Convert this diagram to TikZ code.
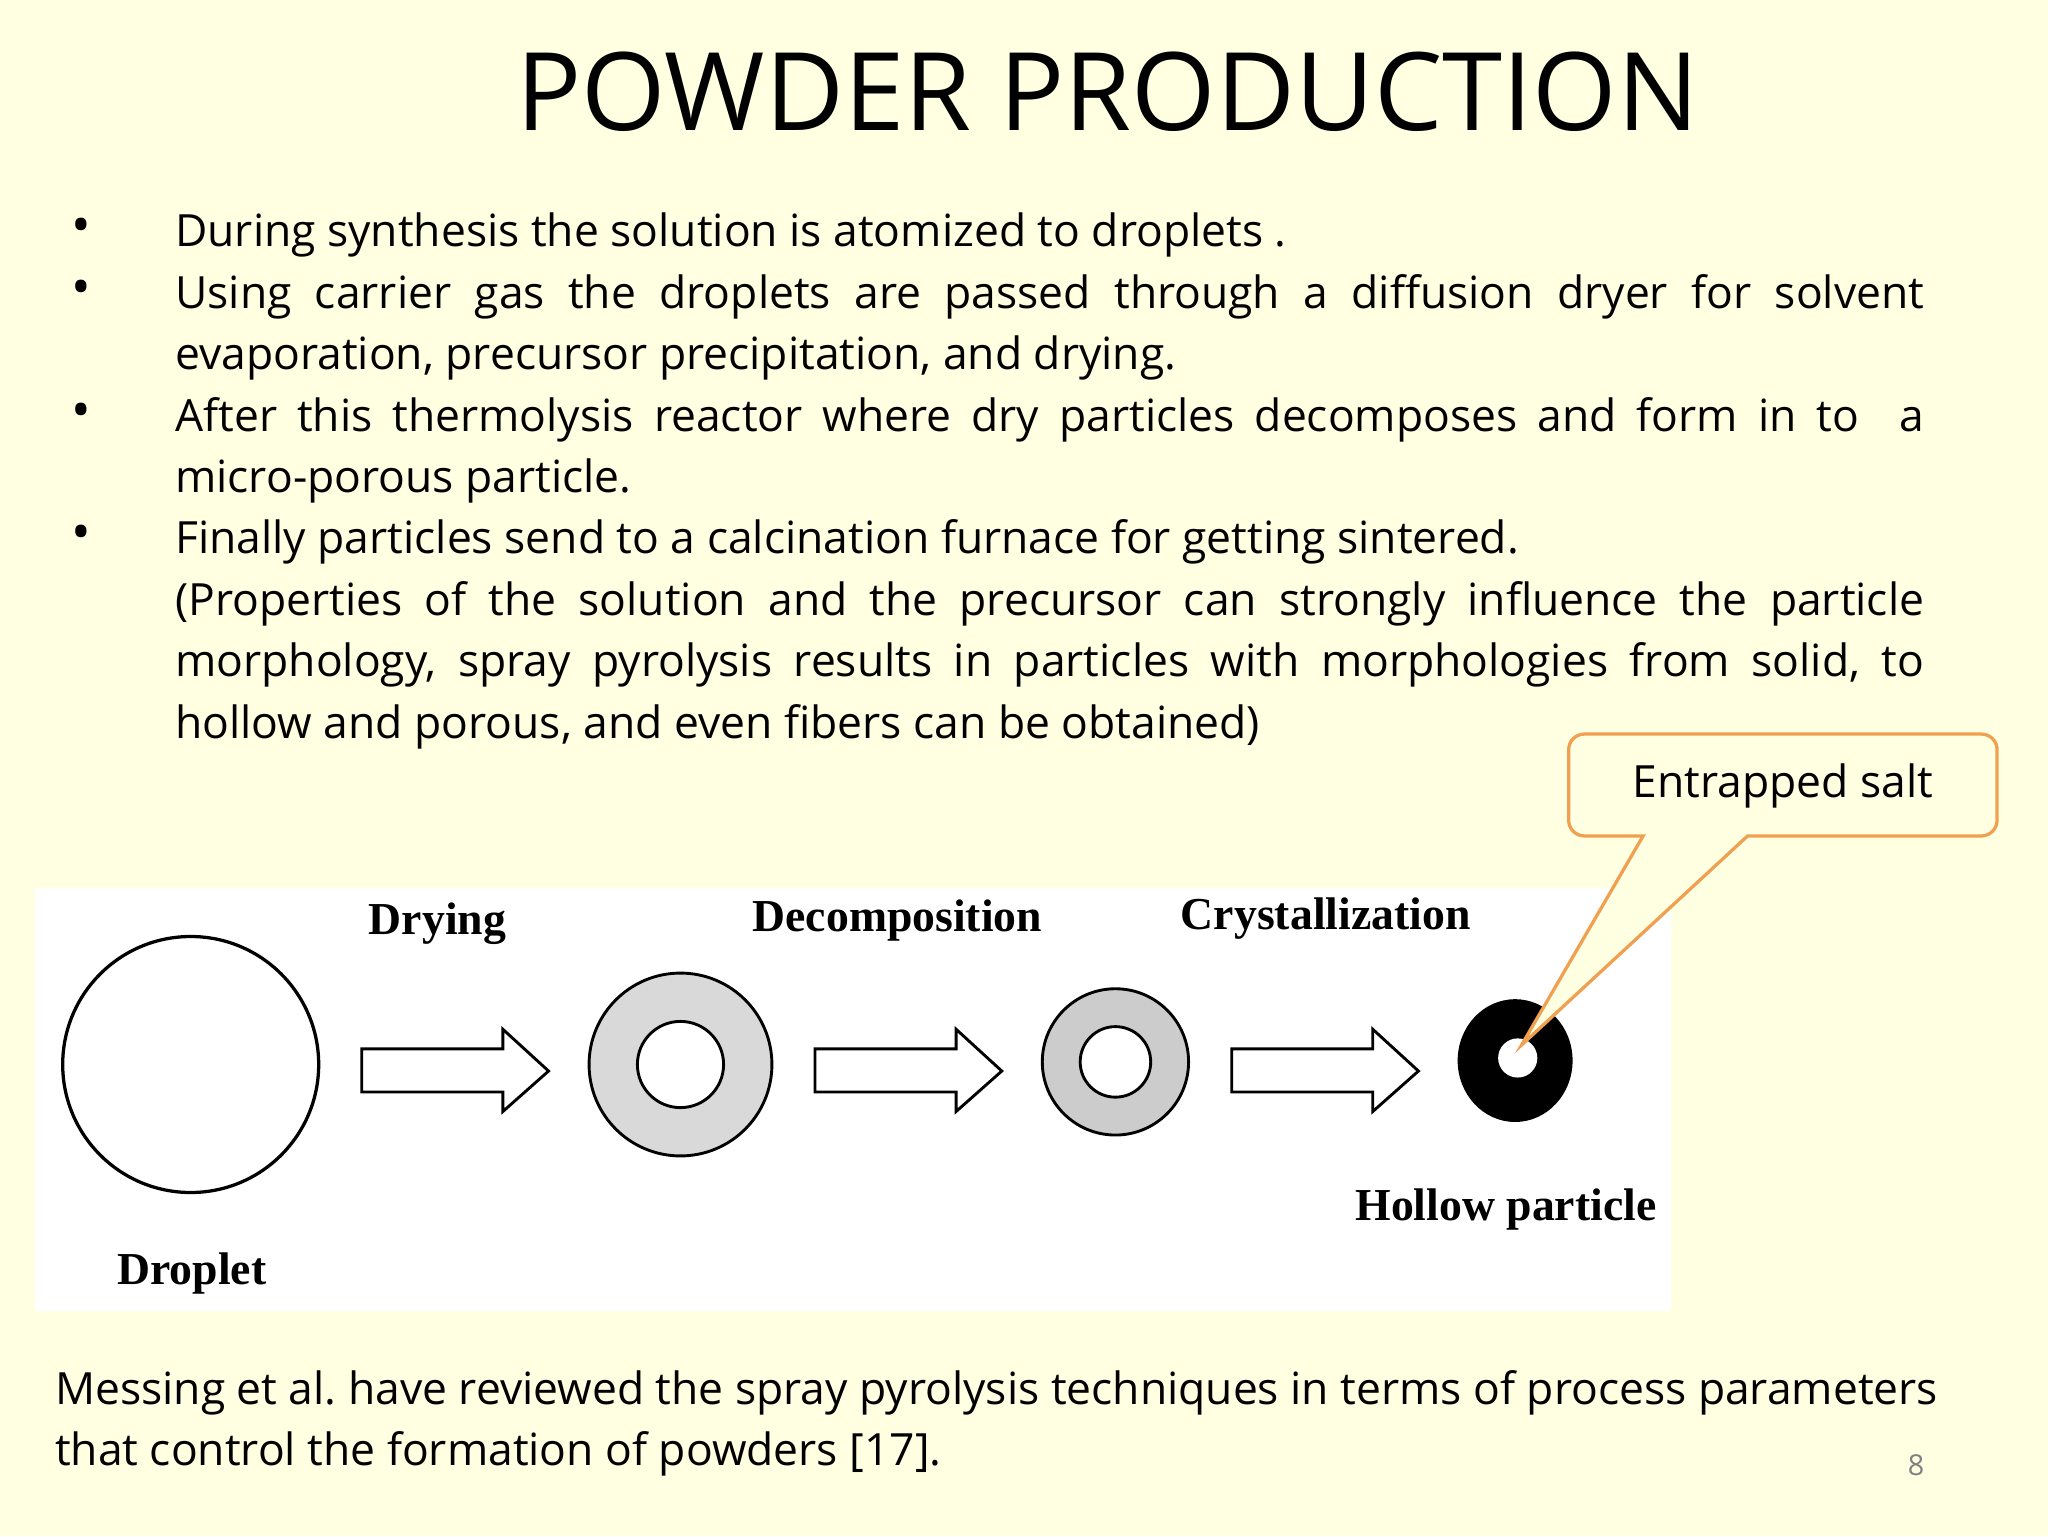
\documentclass[tikz,border=0pt]{standalone}
\usepackage{fontspec}
\setmainfont{Open Sans}
\newfontfamily\figfont{Liberation Serif}
\usepackage{ragged2e}
\setlength{\JustifyingParindent}{0pt}
\frenchspacing
\definecolor{bg}{RGB}{255,255,226}
\definecolor{orng}{RGB}{240,160,80}
\begin{document}
\begin{tikzpicture}[x=1pt,y=-1pt,
  body/.style={anchor=north west,inner sep=0pt,font=\fontsize{34}{47}\selectfont},
  fig/.style={font=\figfont\bfseries\fontsize{35}{40}\selectfont,inner sep=0pt},
  blk/.style={draw,line width=2.2pt,fill=white}]
\fill[bg] (0,0) rectangle (1568,1176);
\useasboundingbox (0,0) rectangle (1568,1176);
\node[font=\fontsize{83}{100}\selectfont,inner sep=0pt] (title) at (848,70) {POWDER PRODUCTION};
\foreach \y/\n in {177/b1,224/b2,318/b3,412/b4}{\node[font=\fontsize{40}{40}\selectfont] (\n) at (62,\y) {•};}
\node[body] (t) at (134,163) {\parbox{1339pt}{\parindent=0pt\hyphenpenalty=10000\exhyphenpenalty=10000\justifying%
During synthesis the solution is atomized to droplets .\\
Using carrier gas the droplets are passed through a diffusion dryer for solvent evaporation, precursor precipitation, and drying.\par
After this thermolysis reactor where dry particles decomposes and form in to\ \ a micro-porous particle.\par
Finally particles send to a calcination furnace for getting sintered.\\
(Properties of the solution and the precursor can strongly influence the particle morphology, spray pyrolysis results in particles with morphologies from solid, to hollow and porous, and even fibers can be obtained)}};
\fill[white] (27,680) rectangle (1279,1004);
\draw[line width=2.5pt] (146,815) circle (98);
\node[fig] (drop) at (147,975) {Droplet};
\foreach \x in {277,624,943}{
 \draw[blk] (\x,803)--(\x+108,803)--(\x+108,788)--(\x+143,820)--(\x+108,851)--(\x+108,836)--(\x,836)--cycle;}
\draw[line width=2.2pt,fill=gray!30] (521,815) circle (70);
\draw[line width=2.2pt,fill=white] (521,815) circle (33);
\draw[line width=2.2pt,fill=gray!40] (854,813) circle (56);
\draw[line width=2.2pt,fill=white] (854,813) circle (27);
\fill[black] (1160,812) ellipse (44 and 47);
\fill[white] (1162,810) circle (15);
\node[fig] (dry) at (335,707) {Drying};
\node[fig] (dec) at (687,705) {Decomposition};
\node[fig] (cry) at (1015,703) {Crystallization};
\node[fig] (hol) at (1153,926) {Hollow particle};
\draw[orng,line width=2.5pt,fill=bg,rounded corners=12pt] (1258,640) [sharp corners]-- (1165,800) -- (1338,640) [rounded corners=12pt]-- (1529,640) -- (1529,562) -- (1201,562) -- (1201,640) [sharp corners]-- cycle;
\node[font=\fontsize{34}{40}\selectfont] (salt) at (1365,602) {Entrapped salt};
\node[body,align=left] (msg) at (42,1049) {Messing et al. have reviewed the spray pyrolysis techniques in terms of process parameters\\that control the formation of powders [17].};
\node[font=\fontsize{22}{24}\selectfont,text=gray] (pg) at (1467,1122) {8};
\end{tikzpicture}
\end{document}
